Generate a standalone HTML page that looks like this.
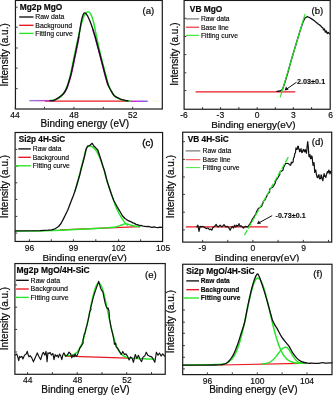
<!DOCTYPE html>
<html><head><meta charset="utf-8"><title>XPS spectra</title>
<style>
html,body{margin:0;padding:0;background:#fff;}
body{width:333px;height:395px;overflow:hidden;}
svg{display:block;}
text{font-family:"Liberation Sans", sans-serif;}
</style></head>
<body>
<svg width="333" height="395" viewBox="0 0 333 395">
<rect width="333" height="395" fill="#fff"/>
<defs><linearGradient id="gl" x1="0" x2="1"><stop offset="0" stop-color="#8f86cf"/><stop offset="0.55" stop-color="#b848d0"/><stop offset="1" stop-color="#c82ac8"/></linearGradient><linearGradient id="gr" x1="0" x2="1"><stop offset="0" stop-color="#d0249a"/><stop offset="0.35" stop-color="#cc22d0"/><stop offset="0.75" stop-color="#9a40e0"/><stop offset="1" stop-color="#7a60d8"/></linearGradient></defs>
<line x1="45.00" y1="101.20" x2="127.00" y2="101.20" stroke="#ea1820" stroke-width="1.25" />
<rect x="29.3" y="99.95" width="26.7" height="1.4" fill="url(#gl)"/>
<rect x="125" y="100.55" width="22.7" height="1.4" fill="url(#gr)"/>
<rect x="152.7" y="100.6" width="7" height="1" fill="#eef5c8"/>
<path d="M50.00 100.70 C50.83 100.57 53.53 100.32 55.00 99.90 C56.47 99.48 57.57 99.05 58.80 98.20 C60.03 97.35 61.23 96.25 62.40 94.80 C63.57 93.35 64.62 92.13 65.80 89.50 C66.98 86.87 68.22 83.92 69.50 79.00 C70.78 74.08 72.17 66.33 73.50 60.00 C74.83 53.67 76.20 47.00 77.50 41.00 C78.80 35.00 80.13 28.33 81.30 24.00 C82.47 19.67 83.40 17.03 84.50 15.00 C85.60 12.97 86.82 11.88 87.90 11.80 C88.98 11.72 89.98 12.47 91.00 14.50 C92.02 16.53 93.07 20.25 94.00 24.00 C94.93 27.75 95.50 31.83 96.60 37.00 C97.70 42.17 99.12 48.83 100.60 55.00 C102.08 61.17 104.17 68.95 105.50 74.00 C106.83 79.05 107.58 82.40 108.60 85.30 C109.62 88.20 110.53 89.55 111.60 91.40 C112.67 93.25 113.52 95.07 115.00 96.40 C116.48 97.73 118.67 98.68 120.50 99.40 C122.33 100.12 124.42 100.45 126.00 100.70 C127.58 100.95 129.33 100.87 130.00 100.90" fill="none" stroke="#27e627" stroke-width="1.5" stroke-linejoin="round" stroke-linecap="round" />
<path d="M63.75 94.00 C64.32 93.07 66.18 90.57 67.15 88.40 C68.12 86.23 68.82 83.40 69.55 81.00 C70.28 78.60 70.62 78.00 71.55 74.00 C72.48 70.00 73.87 63.17 75.15 57.00 C76.43 50.83 78.57 40.33 79.25 37.00" fill="none" stroke="#cc22cc" stroke-width="1.1" stroke-linejoin="round" stroke-linecap="round" />
<path d="M92.55 29.50 C92.93 30.75 93.67 32.75 94.85 37.00 C96.03 41.25 98.03 48.83 99.65 55.00 C101.27 61.17 103.20 68.98 104.55 74.00 C105.90 79.02 107.22 83.25 107.75 85.10" fill="none" stroke="#cc22cc" stroke-width="1.1" stroke-linejoin="round" stroke-linecap="round" />
<path d="M50.00 100.60 C50.63 100.55 52.43 100.75 53.80 100.30 C55.17 99.85 56.63 98.95 58.20 97.90 C59.77 96.85 61.80 95.58 63.20 94.00 C64.60 92.42 65.63 90.57 66.60 88.40 C67.57 86.23 68.27 83.40 69.00 81.00 C69.73 78.60 70.07 78.00 71.00 74.00 C71.93 70.00 73.32 63.17 74.60 57.00 C75.88 50.83 77.58 42.92 78.70 37.00 C79.82 31.08 80.55 25.23 81.30 21.50 C82.05 17.77 82.65 16.03 83.20 14.60 C83.75 13.17 84.15 13.08 84.60 12.90 C85.05 12.72 85.40 12.98 85.90 13.50 C86.40 14.02 86.92 14.70 87.60 16.00 C88.28 17.30 89.10 19.05 90.00 21.30 C90.90 23.55 92.12 26.88 93.00 29.50 C93.88 32.12 94.12 32.75 95.30 37.00 C96.48 41.25 98.48 48.83 100.10 55.00 C101.72 61.17 103.65 68.98 105.00 74.00 C106.35 79.02 107.20 82.32 108.20 85.10 C109.20 87.88 109.98 88.93 111.00 90.70 C112.02 92.47 112.82 94.35 114.30 95.70 C115.78 97.05 118.13 98.03 119.90 98.80 C121.67 99.57 123.55 99.97 124.90 100.30 C126.25 100.63 127.48 100.72 128.00 100.80" fill="none" stroke="#111" stroke-width="1.35" stroke-linejoin="round" stroke-linecap="round" />
<rect x="15.45" y="0.45" width="146.85" height="108.55" fill="none" stroke="#1a1a1a" stroke-width="1.2"/>
<line x1="15.20" y1="109.00" x2="15.20" y2="106.80" stroke="#3a3a3a" stroke-width="1.0" />
<line x1="44.50" y1="109.00" x2="44.50" y2="106.80" stroke="#3a3a3a" stroke-width="1.0" />
<line x1="73.90" y1="109.00" x2="73.90" y2="106.80" stroke="#3a3a3a" stroke-width="1.0" />
<line x1="103.30" y1="109.00" x2="103.30" y2="106.80" stroke="#3a3a3a" stroke-width="1.0" />
<line x1="132.70" y1="109.00" x2="132.70" y2="106.80" stroke="#3a3a3a" stroke-width="1.0" />
<line x1="15.45" y1="7.20" x2="17.65" y2="7.20" stroke="#3a3a3a" stroke-width="1.0" />
<line x1="15.45" y1="27.20" x2="17.65" y2="27.20" stroke="#3a3a3a" stroke-width="1.0" />
<line x1="15.45" y1="48.00" x2="17.65" y2="48.00" stroke="#3a3a3a" stroke-width="1.0" />
<line x1="15.45" y1="68.10" x2="17.65" y2="68.10" stroke="#3a3a3a" stroke-width="1.0" />
<line x1="15.45" y1="88.70" x2="17.65" y2="88.70" stroke="#3a3a3a" stroke-width="1.0" />
<text x="19.70" y="10.20" font-size="8.35" font-weight="bold" text-anchor="start" fill="#0a0a0a" stroke="#0a0a0a" stroke-width="0.2">Mg2p MgO</text>
<line x1="19.20" y1="17.00" x2="33.50" y2="17.00" stroke="#111" stroke-width="1.35" />
<text x="35.30" y="19.30" font-size="6.9" font-weight="normal" text-anchor="start" fill="#0a0a0a" stroke="#0a0a0a" stroke-width="0.15">Raw data</text>
<line x1="19.20" y1="25.30" x2="33.50" y2="25.30" stroke="#ea1820" stroke-width="1.35" />
<text x="35.30" y="27.60" font-size="6.9" font-weight="normal" text-anchor="start" fill="#0a0a0a" stroke="#0a0a0a" stroke-width="0.15">Background</text>
<line x1="19.20" y1="33.40" x2="33.50" y2="33.40" stroke="#27e627" stroke-width="1.35" />
<text x="35.30" y="35.70" font-size="6.9" font-weight="normal" text-anchor="start" fill="#0a0a0a" stroke="#0a0a0a" stroke-width="0.15">Fitting curve</text>
<text x="142.50" y="13.70" font-size="9.6" font-weight="normal" text-anchor="start" fill="#0a0a0a" stroke="#0a0a0a" stroke-width="0.22">(a)</text>
<text x="15.10" y="118.20" font-size="8.5" font-weight="normal" text-anchor="middle" fill="#0a0a0a" stroke="#0a0a0a" stroke-width="0.15">44</text>
<text x="73.90" y="118.20" font-size="8.5" font-weight="normal" text-anchor="middle" fill="#0a0a0a" stroke="#0a0a0a" stroke-width="0.15">48</text>
<text x="132.70" y="118.20" font-size="8.5" font-weight="normal" text-anchor="middle" fill="#0a0a0a" stroke="#0a0a0a" stroke-width="0.15">52</text>
<text x="84.80" y="127.30" font-size="10.0" font-weight="normal" text-anchor="middle" fill="#0a0a0a" stroke="#0a0a0a" stroke-width="0.22">Binding energy (eV)</text>
<text x="0" y="0" font-size="10.0" text-anchor="middle" fill="#0a0a0a" stroke="#0a0a0a" stroke-width="0.22" transform="translate(8.00,54.90) rotate(-90)">Intensity (a.u.)</text>
<line x1="195.60" y1="91.90" x2="295.30" y2="91.90" stroke="#ea1820" stroke-width="1.25" />
<path d="M277.00 91.40 L280.00 91.00 L282.50 89.50 L285.00 82.00 L288.00 72.00 L291.00 61.00 L294.00 51.00 L297.00 41.00 L300.00 31.00 L303.00 22.00 L305.00 18.00 L307.10 16.70 L309.50 17.50 L312.70 19.60 L315.50 21.80 L318.20 24.00 L320.50 25.60 L321.70 27.20 L322.70 27.60 L323.50 29.80 L324.40 29.00 L325.40 32.20 L326.30 31.00 L327.30 33.60 L328.30 32.50 L329.50 33.80" fill="none" stroke="#111" stroke-width="1.3" stroke-linejoin="round" stroke-linecap="round" />
<line x1="280.20" y1="97.30" x2="305.10" y2="13.90" stroke="#27e627" stroke-width="1.15" />
<line x1="296.60" y1="82.20" x2="287.00" y2="88.80" stroke="#111" stroke-width="1.0" />
<polygon points="284.6,90.4 286.0,86.6 288.6,89.8" fill="#111"/>
<text x="297.00" y="84.40" font-size="7.25" font-weight="bold" text-anchor="start" fill="#0a0a0a" stroke="#0a0a0a" stroke-width="0.1">2.03±0.1</text>
<rect x="184.10" y="0.45" width="146.10" height="108.80" fill="none" stroke="#1a1a1a" stroke-width="1.2"/>
<line x1="202.60" y1="109.25" x2="202.60" y2="107.05" stroke="#3a3a3a" stroke-width="1.0" />
<line x1="220.60" y1="109.25" x2="220.60" y2="107.05" stroke="#3a3a3a" stroke-width="1.0" />
<line x1="238.90" y1="109.25" x2="238.90" y2="107.05" stroke="#3a3a3a" stroke-width="1.0" />
<line x1="257.20" y1="109.25" x2="257.20" y2="107.05" stroke="#3a3a3a" stroke-width="1.0" />
<line x1="275.30" y1="109.25" x2="275.30" y2="107.05" stroke="#3a3a3a" stroke-width="1.0" />
<line x1="293.30" y1="109.25" x2="293.30" y2="107.05" stroke="#3a3a3a" stroke-width="1.0" />
<line x1="311.60" y1="109.25" x2="311.60" y2="107.05" stroke="#3a3a3a" stroke-width="1.0" />
<line x1="184.10" y1="18.30" x2="186.30" y2="18.30" stroke="#3a3a3a" stroke-width="1.0" />
<line x1="184.10" y1="36.50" x2="186.30" y2="36.50" stroke="#3a3a3a" stroke-width="1.0" />
<line x1="184.10" y1="54.60" x2="186.30" y2="54.60" stroke="#3a3a3a" stroke-width="1.0" />
<line x1="184.10" y1="72.80" x2="186.30" y2="72.80" stroke="#3a3a3a" stroke-width="1.0" />
<line x1="184.10" y1="90.60" x2="186.30" y2="90.60" stroke="#3a3a3a" stroke-width="1.0" />
<text x="189.80" y="11.80" font-size="8.4" font-weight="bold" text-anchor="start" fill="#0a0a0a" stroke="#0a0a0a" stroke-width="0.2">VB MgO</text>
<line x1="185.90" y1="18.90" x2="199.20" y2="18.90" stroke="#606060" stroke-width="1.05" />
<text x="200.90" y="21.20" font-size="6.8" font-weight="normal" text-anchor="start" fill="#0a0a0a" stroke="#0a0a0a" stroke-width="0.15">Raw data</text>
<line x1="185.90" y1="27.20" x2="199.20" y2="27.20" stroke="#ea1820" stroke-width="1.05" />
<text x="200.90" y="29.50" font-size="6.8" font-weight="normal" text-anchor="start" fill="#0a0a0a" stroke="#0a0a0a" stroke-width="0.15">Base line</text>
<line x1="185.90" y1="35.30" x2="199.20" y2="35.30" stroke="#27e627" stroke-width="1.05" />
<text x="200.90" y="37.60" font-size="6.8" font-weight="normal" text-anchor="start" fill="#0a0a0a" stroke="#0a0a0a" stroke-width="0.15">Fitting curve</text>
<text x="311.50" y="13.90" font-size="9.6" font-weight="normal" text-anchor="start" fill="#0a0a0a" stroke="#0a0a0a" stroke-width="0.22">(b)</text>
<text x="184.00" y="118.10" font-size="8.5" font-weight="normal" text-anchor="middle" fill="#0a0a0a" stroke="#0a0a0a" stroke-width="0.15">-6</text>
<text x="220.40" y="118.10" font-size="8.5" font-weight="normal" text-anchor="middle" fill="#0a0a0a" stroke="#0a0a0a" stroke-width="0.15">-3</text>
<text x="257.20" y="118.10" font-size="8.5" font-weight="normal" text-anchor="middle" fill="#0a0a0a" stroke="#0a0a0a" stroke-width="0.15">0</text>
<text x="293.30" y="118.10" font-size="8.5" font-weight="normal" text-anchor="middle" fill="#0a0a0a" stroke="#0a0a0a" stroke-width="0.15">3</text>
<text x="330.50" y="118.10" font-size="8.5" font-weight="normal" text-anchor="middle" fill="#0a0a0a" stroke="#0a0a0a" stroke-width="0.15">6</text>
<text x="253.40" y="127.80" font-size="9.85" font-weight="normal" text-anchor="middle" fill="#0a0a0a" stroke="#0a0a0a" stroke-width="0.22">Binding energy(eV)</text>
<text x="0" y="0" font-size="10.0" text-anchor="middle" fill="#0a0a0a" stroke="#0a0a0a" stroke-width="0.22" transform="translate(177.70,54.20) rotate(-90)">Intensity (a.u.)</text>
<line x1="60.00" y1="229.80" x2="140.00" y2="226.60" stroke="#ea1820" stroke-width="1.2" />
<path d="M15.50 231.10 C19.58 231.08 30.92 231.22 40.00 231.00 C49.08 230.78 60.00 230.27 70.00 229.80 C80.00 229.33 92.67 228.62 100.00 228.20 C107.33 227.78 110.67 227.73 114.00 227.30 C117.33 226.87 118.02 226.22 120.00 225.60 C121.98 224.98 124.23 223.73 125.90 223.60 C127.57 223.47 128.65 224.40 130.00 224.80 C131.35 225.20 132.37 225.68 134.00 226.00 C135.63 226.32 138.83 226.58 139.80 226.70" fill="none" stroke="#27e627" stroke-width="1.4" stroke-linejoin="round" stroke-linecap="round" />
<path d="M74.90 191.20 C75.17 190.33 75.90 188.12 76.50 186.00 C77.10 183.88 77.75 181.42 78.50 178.50 C79.25 175.58 80.15 171.83 81.00 168.50 C81.85 165.17 82.85 161.42 83.60 158.50 C84.35 155.58 84.83 152.92 85.50 151.00 C86.17 149.08 86.85 147.83 87.60 147.00 C88.35 146.17 89.10 145.93 90.00 146.00 C90.90 146.07 92.00 146.65 93.00 147.40 C94.00 148.15 95.00 149.07 96.00 150.50 C97.00 151.93 97.83 153.33 99.00 156.00 C100.17 158.67 101.72 162.50 103.00 166.50 C104.28 170.50 105.45 175.92 106.70 180.00 C107.95 184.08 109.03 186.65 110.50 191.00 C111.97 195.35 113.95 202.13 115.50 206.10 C117.05 210.07 118.35 212.18 119.80 214.80 C121.25 217.42 122.90 220.05 124.20 221.80 C125.50 223.55 127.03 224.72 127.60 225.30" fill="none" stroke="#27e627" stroke-width="1.4" stroke-linejoin="round" stroke-linecap="round" />
<path d="M15.50 230.90 L40.00 230.60 L48.00 230.20 L51.60 229.80 L55.00 228.80 L58.60 226.50 L61.00 223.50 L63.30 219.10 L65.60 214.50 L67.90 209.80 L69.70 205.00 L71.40 200.50 L73.20 196.00 L74.90 191.20 L76.50 186.00 L78.30 180.00 L80.00 174.00 L81.30 168.50 L84.30 157.50 L86.30 148.50 L87.50 146.20 L88.50 145.80 L89.50 145.70 L90.80 144.50 L92.20 143.30 L93.20 145.00 L94.00 146.30 L95.50 147.60 L97.80 150.00 L100.00 156.80 L103.00 166.50 L104.40 170.50 L106.70 179.50 L107.80 183.30 L111.10 193.50 L114.00 201.00 L117.20 206.80 L120.00 211.50 L122.40 215.70 L125.00 218.50 L127.60 220.30 L130.00 221.30 L132.90 222.90 L134.50 223.40 L136.00 224.40 L138.00 224.90 L139.80 225.60 L141.50 225.50 L143.00 226.10 L145.00 226.30 L146.80 226.70 L148.50 226.40 L150.00 226.80 L152.00 227.30 L154.00 226.90 L156.00 227.30 L158.00 227.60 L160.00 227.20 L162.00 227.40" fill="none" stroke="#111" stroke-width="1.3" stroke-linejoin="round" stroke-linecap="round" />
<rect x="15.10" y="132.50" width="147.50" height="108.95" fill="none" stroke="#1a1a1a" stroke-width="1.2"/>
<line x1="29.40" y1="241.45" x2="29.40" y2="239.25" stroke="#3a3a3a" stroke-width="1.0" />
<line x1="51.30" y1="241.45" x2="51.30" y2="239.25" stroke="#3a3a3a" stroke-width="1.0" />
<line x1="73.40" y1="241.45" x2="73.40" y2="239.25" stroke="#3a3a3a" stroke-width="1.0" />
<line x1="95.80" y1="241.45" x2="95.80" y2="239.25" stroke="#3a3a3a" stroke-width="1.0" />
<line x1="118.60" y1="241.45" x2="118.60" y2="239.25" stroke="#3a3a3a" stroke-width="1.0" />
<line x1="140.60" y1="241.45" x2="140.60" y2="239.25" stroke="#3a3a3a" stroke-width="1.0" />
<line x1="15.10" y1="149.40" x2="17.30" y2="149.40" stroke="#3a3a3a" stroke-width="1.0" />
<line x1="15.10" y1="166.30" x2="17.30" y2="166.30" stroke="#3a3a3a" stroke-width="1.0" />
<line x1="15.10" y1="182.80" x2="17.30" y2="182.80" stroke="#3a3a3a" stroke-width="1.0" />
<line x1="15.10" y1="199.40" x2="17.30" y2="199.40" stroke="#3a3a3a" stroke-width="1.0" />
<line x1="15.10" y1="216.40" x2="17.30" y2="216.40" stroke="#3a3a3a" stroke-width="1.0" />
<line x1="15.10" y1="233.10" x2="17.30" y2="233.10" stroke="#3a3a3a" stroke-width="1.0" />
<text x="18.80" y="142.30" font-size="8.2" font-weight="bold" text-anchor="start" fill="#0a0a0a" stroke="#0a0a0a" stroke-width="0.2">Si2p 4H-SiC</text>
<line x1="18.30" y1="148.90" x2="30.80" y2="148.90" stroke="#111" stroke-width="1.35" />
<text x="32.80" y="151.20" font-size="6.8" font-weight="normal" text-anchor="start" fill="#0a0a0a" stroke="#0a0a0a" stroke-width="0.15">Raw data</text>
<line x1="18.30" y1="157.30" x2="30.80" y2="157.30" stroke="#ea1820" stroke-width="1.35" />
<text x="32.80" y="159.60" font-size="6.8" font-weight="normal" text-anchor="start" fill="#0a0a0a" stroke="#0a0a0a" stroke-width="0.15">Background</text>
<line x1="18.30" y1="165.80" x2="30.80" y2="165.80" stroke="#27e627" stroke-width="1.35" />
<text x="32.80" y="168.10" font-size="6.8" font-weight="normal" text-anchor="start" fill="#0a0a0a" stroke="#0a0a0a" stroke-width="0.15">Fitting curve</text>
<text x="142.30" y="146.30" font-size="9.6" font-weight="normal" text-anchor="start" fill="#0a0a0a" stroke="#0a0a0a" stroke-width="0.4">(c)</text>
<line x1="15.20" y1="165.80" x2="19.00" y2="165.80" stroke="#27e627" stroke-width="1.35" />
<text x="29.40" y="250.60" font-size="8.5" font-weight="normal" text-anchor="middle" fill="#0a0a0a" stroke="#0a0a0a" stroke-width="0.15">96</text>
<text x="73.60" y="250.60" font-size="8.5" font-weight="normal" text-anchor="middle" fill="#0a0a0a" stroke="#0a0a0a" stroke-width="0.15">99</text>
<text x="118.50" y="250.60" font-size="8.5" font-weight="normal" text-anchor="middle" fill="#0a0a0a" stroke="#0a0a0a" stroke-width="0.15">102</text>
<text x="163.20" y="250.60" font-size="8.5" font-weight="normal" text-anchor="middle" fill="#0a0a0a" stroke="#0a0a0a" stroke-width="0.15">105</text>
<text x="84.70" y="260.50" font-size="9.85" font-weight="normal" text-anchor="middle" fill="#0a0a0a" stroke="#0a0a0a" stroke-width="0.22">Binding energy(eV)</text>
<text x="0" y="0" font-size="10.0" text-anchor="middle" fill="#0a0a0a" stroke="#0a0a0a" stroke-width="0.22" transform="translate(8.00,186.60) rotate(-90)">Intensity (a.u.)</text>
<line x1="185.90" y1="226.90" x2="267.80" y2="226.90" stroke="#ea1820" stroke-width="1.3" />
<path d="M196.80 226.90 L197.90 225.20 L199.00 231.40 L200.10 226.40 L201.20 226.90 L202.90 226.40 L204.60 227.50 L206.20 228.60 L207.90 228.00 L209.60 229.70 L210.70 229.10 L211.80 230.20 L212.90 227.50 L214.60 226.40 L216.20 224.50 L217.30 226.40 L218.40 226.90 L220.10 225.20 L221.80 226.90 L222.90 225.80 L224.00 224.70 L225.70 226.90 L227.30 226.40 L229.00 228.00 L230.10 230.20 L231.20 228.00 L232.30 226.40 L233.40 228.00 L234.60 225.20 L235.70 226.90 L236.80 225.20 L237.90 226.40 L239.00 223.60 L240.10 226.40 L241.20 225.80 L242.30 226.90 L243.40 228.00 L244.60 226.90 L245.70 226.40 L246.80 226.90 L247.90 226.90 L249.00 225.20 L250.10 223.60 L251.20 221.90 L252.53 218.77 L254.28 216.47 L256.33 212.98 L256.29 212.11 L258.31 208.49 L261.51 206.54 L262.56 204.14 L263.52 201.07 L264.95 200.09 L266.11 197.42 L267.90 193.64 L269.54 192.28 L269.88 188.75 L272.67 187.21 L273.75 185.61 L275.17 183.28 L275.84 180.62 L277.39 178.47 L279.86 174.38 L279.51 172.20 L282.94 170.22 L283.56 167.54 L284.70 165.29 L285.76 163.27 L288.50 163.50 L289.30 164.62 L290.10 165.00 L290.70 165.28 L291.30 162.00 L291.90 163.10 L292.50 162.60 L293.00 162.19 L293.50 158.00 L294.15 157.42 L294.80 153.70 L295.40 152.96 L296.00 147.90 L296.60 149.45 L297.20 149.50 L297.75 146.37 L298.30 146.20 L298.75 149.19 L299.20 149.00 L299.60 151.64 L300.00 150.20 L300.50 151.13 L301.00 148.50 L301.40 150.85 L301.80 152.60 L302.40 152.24 L303.00 150.00 L303.60 149.43 L304.20 151.40 L304.75 151.91 L305.30 149.50 L305.90 151.72 L306.50 153.30 L307.10 146.50 L307.70 141.60 L308.30 146.93 L308.90 156.10 L309.45 156.86 L310.00 154.50 L310.60 158.61 L311.20 158.40 L311.70 155.89 L312.20 157.00 L312.65 162.52 L313.10 165.40 L313.55 163.56 L314.00 162.50 L314.35 165.96 L314.70 172.50 L315.25 170.34 L315.80 170.00 L316.45 174.78 L317.10 177.20 L317.80 177.74 L318.50 175.00 L319.00 174.74 L319.50 178.50 L320.05 178.90 L320.60 178.30 L321.05 174.90 L321.50 175.50 L322.20 179.06 L322.90 180.70 L323.50 176.41 L324.10 173.60 L324.65 176.48 L325.20 176.00 L325.80 177.51 L326.40 174.80 L326.95 173.17 L327.50 171.50 L328.15 172.99 L328.80 170.10 L329.40 171.21 L330.00 174.00 L330.55 171.39 L331.10 172.50" fill="none" stroke="#111" stroke-width="1.2" stroke-linejoin="round" stroke-linecap="round" />
<line x1="244.40" y1="235.20" x2="288.50" y2="156.80" stroke="#27e627" stroke-width="1.25" stroke-dasharray="6 1.6"/>
<line x1="272.20" y1="215.60" x2="259.50" y2="222.50" stroke="#111" stroke-width="1.0" />
<polygon points="257.0,223.9 258.6,220.4 261.0,223.8" fill="#111"/>
<text x="275.50" y="218.00" font-size="7.15" font-weight="bold" text-anchor="start" fill="#0a0a0a" stroke="#0a0a0a" stroke-width="0.1">-0.73±0.1</text>
<rect x="182.70" y="132.20" width="149.00" height="109.90" fill="none" stroke="#1a1a1a" stroke-width="1.2"/>
<line x1="202.60" y1="242.10" x2="202.60" y2="239.90" stroke="#3a3a3a" stroke-width="1.0" />
<line x1="227.80" y1="242.10" x2="227.80" y2="239.90" stroke="#3a3a3a" stroke-width="1.0" />
<line x1="252.90" y1="242.10" x2="252.90" y2="239.90" stroke="#3a3a3a" stroke-width="1.0" />
<line x1="278.10" y1="242.10" x2="278.10" y2="239.90" stroke="#3a3a3a" stroke-width="1.0" />
<line x1="303.30" y1="242.10" x2="303.30" y2="239.90" stroke="#3a3a3a" stroke-width="1.0" />
<line x1="328.50" y1="242.10" x2="328.50" y2="239.90" stroke="#3a3a3a" stroke-width="1.0" />
<line x1="182.70" y1="141.70" x2="184.90" y2="141.70" stroke="#3a3a3a" stroke-width="1.0" />
<line x1="182.70" y1="159.40" x2="184.90" y2="159.40" stroke="#3a3a3a" stroke-width="1.0" />
<line x1="182.70" y1="177.00" x2="184.90" y2="177.00" stroke="#3a3a3a" stroke-width="1.0" />
<line x1="182.70" y1="194.40" x2="184.90" y2="194.40" stroke="#3a3a3a" stroke-width="1.0" />
<line x1="182.70" y1="212.20" x2="184.90" y2="212.20" stroke="#3a3a3a" stroke-width="1.0" />
<line x1="182.70" y1="229.90" x2="184.90" y2="229.90" stroke="#3a3a3a" stroke-width="1.0" />
<text x="187.70" y="142.30" font-size="8.3" font-weight="bold" text-anchor="start" fill="#0a0a0a" stroke="#0a0a0a" stroke-width="0.2">VB 4H-SiC</text>
<line x1="185.70" y1="150.90" x2="200.30" y2="150.90" stroke="#606060" stroke-width="1.05" />
<text x="202.60" y="153.20" font-size="6.8" font-weight="normal" text-anchor="start" fill="#0a0a0a" stroke="#0a0a0a" stroke-width="0.15">Raw data</text>
<line x1="185.70" y1="159.70" x2="200.30" y2="159.70" stroke="#f54848" stroke-width="1.05" />
<text x="202.60" y="162.00" font-size="6.8" font-weight="normal" text-anchor="start" fill="#0a0a0a" stroke="#0a0a0a" stroke-width="0.15">Base line</text>
<line x1="185.70" y1="167.60" x2="200.30" y2="167.60" stroke="#4ae84a" stroke-width="1.05" />
<text x="202.60" y="169.90" font-size="6.8" font-weight="normal" text-anchor="start" fill="#0a0a0a" stroke="#0a0a0a" stroke-width="0.15">Fitting curve</text>
<text x="311.70" y="144.70" font-size="9.6" font-weight="normal" text-anchor="start" fill="#0a0a0a" stroke="#0a0a0a" stroke-width="0.22">(d)</text>
<text x="202.40" y="251.30" font-size="8.5" font-weight="normal" text-anchor="middle" fill="#0a0a0a" stroke="#0a0a0a" stroke-width="0.15">-9</text>
<text x="252.90" y="251.30" font-size="8.5" font-weight="normal" text-anchor="middle" fill="#0a0a0a" stroke="#0a0a0a" stroke-width="0.15">0</text>
<text x="303.60" y="251.30" font-size="8.5" font-weight="normal" text-anchor="middle" fill="#0a0a0a" stroke="#0a0a0a" stroke-width="0.15">9</text>
<text x="257.00" y="260.50" font-size="9.9" font-weight="normal" text-anchor="middle" fill="#0a0a0a" stroke="#0a0a0a" stroke-width="0.22">Binding energy(eV)</text>
<text x="0" y="0" font-size="10.0" text-anchor="middle" fill="#0a0a0a" stroke="#0a0a0a" stroke-width="0.22" transform="translate(174.00,186.70) rotate(-90)">Intensity (a.u.)</text>
<rect x="0" y="261.7" width="333" height="1.5" fill="#fff"/>
<line x1="65.70" y1="356.10" x2="128.00" y2="358.20" stroke="#ea1820" stroke-width="1.25" />
<path d="M64.60 355.54 L65.24 355.55 L65.88 355.56 L66.52 355.55 L67.15 355.54 L67.79 355.53 L68.43 355.50 L69.07 355.45 L69.71 355.39 L70.35 355.32 L70.99 355.21 L71.62 355.08 L72.26 354.92 L72.90 354.72 L73.54 354.48 L74.18 354.18 L74.82 353.83 L75.46 353.41 L76.09 352.91 L76.73 352.34 L77.37 351.66 L78.01 350.89 L78.65 350.00 L79.29 348.98 L79.93 347.84 L80.56 346.55 L81.20 345.12 L81.84 343.53 L82.48 341.77 L83.12 339.86 L83.76 337.77 L84.40 335.53 L85.03 333.12 L85.67 330.56 L86.31 327.86 L86.95 325.03 L87.59 322.09 L88.23 319.05 L88.87 315.95 L89.50 312.81 L90.14 309.67 L90.78 306.54 L91.42 303.47 L92.06 300.50 L92.70 297.65 L93.34 294.97 L93.97 292.49 L94.61 290.24 L95.25 288.26 L95.89 286.57 L96.53 285.20 L97.17 284.17 L97.81 283.50 L98.44 283.19 L99.08 283.25 L99.72 283.66 L100.36 284.41 L101.00 285.49 L101.64 286.88 L102.28 288.58 L102.91 290.54 L103.55 292.76 L104.19 295.20 L104.83 297.83 L105.47 300.62 L106.11 303.53 L106.75 306.54 L107.38 309.60 L108.02 312.70 L108.66 315.79 L109.30 318.86 L109.94 321.87 L110.58 324.80 L111.22 327.64 L111.85 330.36 L112.49 332.96 L113.13 335.41 L113.77 337.72 L114.41 339.88 L115.05 341.89 L115.69 343.74 L116.32 345.43 L116.96 346.98 L117.60 348.38 L118.24 349.64 L118.88 350.77 L119.52 351.79 L120.16 352.68 L120.79 353.47 L121.43 354.17 L122.07 354.78 L122.71 355.31 L123.35 355.76 L123.99 356.16 L124.63 356.50 L125.26 356.79 L125.90 357.04 L126.54 357.26 L127.18 357.44 L127.82 357.60 L128.46 357.73 L129.10 357.84 L129.73 357.94 L130.37 358.02 L131.01 358.10 L131.65 358.16 L132.29 358.22 L132.93 358.27 L133.57 358.31 L134.20 358.35 L134.84 358.39 L135.48 358.42 L136.12 358.46 L136.76 358.49 L137.40 358.52 L138.04 358.55 L138.67 358.58 L139.31 358.60 L139.95 358.63 L140.59 358.66 L141.23 358.68 L141.87 358.71 L142.51 358.74 L143.14 358.76 L143.78 358.79 L144.42 358.81 L145.06 358.84 L145.70 358.87 L146.34 358.89 L146.98 358.92 L147.61 358.94 L148.25 358.97 L148.89 358.99 L149.53 359.02 L150.17 359.05 L150.81 359.07 L151.45 359.10 L152.08 359.12 L152.72 359.15 L153.36 359.17 L154.00 359.20" fill="none" stroke="#27e627" stroke-width="1.5" stroke-linejoin="round" stroke-linecap="round" />
<path d="M15.20 355.10 L16.80 354.00 L17.90 357.40 L18.70 360.70 L19.60 356.30 L20.70 357.40 L21.80 356.30 L22.90 359.00 L24.60 355.10 L26.20 354.00 L27.30 351.30 L28.20 355.10 L29.00 356.80 L30.10 355.70 L31.80 357.90 L33.40 361.80 L35.10 357.90 L37.30 352.90 L39.00 356.80 L40.70 359.60 L42.30 354.00 L43.40 352.40 L44.90 355.10 L46.00 351.30 L47.10 361.80 L47.90 352.90 L49.00 353.50 L50.10 352.40 L51.40 355.10 L52.90 353.50 L54.00 359.60 L55.10 354.60 L56.20 356.30 L57.30 355.10 L58.40 357.40 L59.60 354.00 L60.70 355.70 L61.80 359.60 L62.90 354.60 L64.00 352.90 L65.70 356.30 L67.30 355.10 L69.00 352.10 L70.70 354.00 L71.80 357.90 L72.90 355.10 L74.00 356.80 L75.10 354.00 L76.20 356.30 L77.30 355.10 L79.00 350.60 L80.10 347.20 L80.60 347.10 L81.70 345.40 L83.30 342.70 L82.90 341.50 L83.30 338.80 L84.40 333.50 L85.00 333.20 L85.60 329.90 L86.10 328.20 L87.20 324.30 L88.90 316.60 L89.80 311.60 L91.10 309.30 L90.60 308.20 L91.70 303.80 L93.10 298.20 L94.40 293.80 L95.60 290.40 L96.70 287.10 L98.70 281.30 L100.60 288.20 L101.70 290.40 L102.80 291.60 L103.90 297.10 L105.00 302.70 L106.40 307.10 L107.80 308.80 L108.30 308.20 L109.10 311.60 L109.40 318.00 L111.10 327.70 L112.80 334.30 L113.90 339.90 L114.40 344.30 L115.60 343.20 L116.10 346.60 L118.10 349.10 L121.30 354.50 L122.80 351.40 L124.40 354.50 L125.90 353.80 L127.50 356.10 L129.10 360.00 L130.60 356.90 L132.20 358.40 L133.40 362.30 L135.30 354.50 L136.90 358.40 L138.40 355.30 L140.00 359.20 L141.60 361.60 L143.10 356.90 L144.70 356.10 L146.30 352.20 L147.80 355.30 L149.40 356.10 L151.70 356.90 L153.30 359.20 L154.80 362.30 L156.40 352.20 L158.00 355.30 L159.50 353.00 L161.10 356.10 L162.70 353.80 L164.60 356.10" fill="none" stroke="#111" stroke-width="1.15" stroke-linejoin="round" stroke-linecap="round" />
<rect x="14.90" y="263.55" width="150.35" height="110.75" fill="none" stroke="#1a1a1a" stroke-width="1.2"/>
<line x1="27.60" y1="374.30" x2="27.60" y2="372.10" stroke="#3a3a3a" stroke-width="1.0" />
<line x1="52.40" y1="374.30" x2="52.40" y2="372.10" stroke="#3a3a3a" stroke-width="1.0" />
<line x1="77.20" y1="374.30" x2="77.20" y2="372.10" stroke="#3a3a3a" stroke-width="1.0" />
<line x1="102.00" y1="374.30" x2="102.00" y2="372.10" stroke="#3a3a3a" stroke-width="1.0" />
<line x1="126.70" y1="374.30" x2="126.70" y2="372.10" stroke="#3a3a3a" stroke-width="1.0" />
<line x1="151.50" y1="374.30" x2="151.50" y2="372.10" stroke="#3a3a3a" stroke-width="1.0" />
<line x1="14.90" y1="285.00" x2="17.10" y2="285.00" stroke="#3a3a3a" stroke-width="1.0" />
<line x1="14.90" y1="307.20" x2="17.10" y2="307.20" stroke="#3a3a3a" stroke-width="1.0" />
<line x1="14.90" y1="329.40" x2="17.10" y2="329.40" stroke="#3a3a3a" stroke-width="1.0" />
<line x1="14.90" y1="352.00" x2="17.10" y2="352.00" stroke="#3a3a3a" stroke-width="1.0" />
<text x="16.60" y="272.60" font-size="8.45" font-weight="bold" text-anchor="start" fill="#0a0a0a" stroke="#0a0a0a" stroke-width="0.2">Mg2p MgO/4H-SiC</text>
<line x1="16.10" y1="280.30" x2="28.80" y2="280.30" stroke="#111" stroke-width="1.35" />
<text x="30.60" y="282.60" font-size="7.0" font-weight="normal" text-anchor="start" fill="#0a0a0a" stroke="#0a0a0a" stroke-width="0.15">Raw data</text>
<line x1="16.10" y1="289.00" x2="28.80" y2="289.00" stroke="#ea1820" stroke-width="1.35" />
<text x="30.60" y="291.30" font-size="7.0" font-weight="normal" text-anchor="start" fill="#0a0a0a" stroke="#0a0a0a" stroke-width="0.15">Background</text>
<line x1="16.10" y1="297.40" x2="28.80" y2="297.40" stroke="#27e627" stroke-width="1.35" />
<text x="30.60" y="299.70" font-size="7.0" font-weight="normal" text-anchor="start" fill="#0a0a0a" stroke="#0a0a0a" stroke-width="0.15">Fitting curve</text>
<text x="145.10" y="278.20" font-size="9.6" font-weight="normal" text-anchor="start" fill="#0a0a0a" stroke="#0a0a0a" stroke-width="0.22">(e)</text>
<line x1="15.00" y1="297.40" x2="17.00" y2="297.40" stroke="#27e627" stroke-width="1.35" />
<text x="27.70" y="383.40" font-size="8.5" font-weight="normal" text-anchor="middle" fill="#0a0a0a" stroke="#0a0a0a" stroke-width="0.15">44</text>
<text x="77.40" y="383.40" font-size="8.5" font-weight="normal" text-anchor="middle" fill="#0a0a0a" stroke="#0a0a0a" stroke-width="0.15">48</text>
<text x="126.90" y="383.40" font-size="8.5" font-weight="normal" text-anchor="middle" fill="#0a0a0a" stroke="#0a0a0a" stroke-width="0.15">52</text>
<text x="85.50" y="393.00" font-size="10.0" font-weight="normal" text-anchor="middle" fill="#0a0a0a" stroke="#0a0a0a" stroke-width="0.22">Binding energy (eV)</text>
<text x="0" y="0" font-size="10.0" text-anchor="middle" fill="#0a0a0a" stroke="#0a0a0a" stroke-width="0.22" transform="translate(8.00,318.50) rotate(-90)">Intensity (a.u.)</text>
<line x1="220.00" y1="365.00" x2="301.00" y2="363.40" stroke="#ea1820" stroke-width="1.25" />
<path d="M183.00 365.10 L183.77 365.09 L184.54 365.08 L185.31 365.07 L186.07 365.05 L186.84 365.04 L187.61 365.03 L188.38 365.02 L189.15 365.01 L189.92 365.00 L190.69 364.99 L191.46 364.98 L192.22 364.96 L192.99 364.95 L193.76 364.94 L194.53 364.93 L195.30 364.92 L196.07 364.91 L196.84 364.90 L197.61 364.89 L198.38 364.87 L199.14 364.86 L199.91 364.85 L200.68 364.84 L201.45 364.83 L202.22 364.82 L202.99 364.81 L203.76 364.80 L204.53 364.78 L205.29 364.77 L206.06 364.76 L206.83 364.75 L207.60 364.74 L208.37 364.73 L209.14 364.71 L209.91 364.70 L210.68 364.69 L211.44 364.67 L212.21 364.66 L212.98 364.64 L213.75 364.62 L214.52 364.60 L215.29 364.58 L216.06 364.55 L216.82 364.52 L217.59 364.49 L218.36 364.44 L219.13 364.39 L219.90 364.33 L220.67 364.26 L221.44 364.17 L222.21 364.07 L222.97 363.94 L223.74 363.79 L224.51 363.61 L225.28 363.39 L226.05 363.14 L226.82 362.83 L227.59 362.47 L228.36 362.04 L229.12 361.55 L229.89 360.97 L230.66 360.30 L231.43 359.53 L232.20 358.65 L232.97 357.64 L233.74 356.50 L234.51 355.21 L235.28 353.77 L236.04 352.16 L236.81 350.38 L237.58 348.42 L238.35 346.28 L239.12 343.95 L239.89 341.43 L240.66 338.73 L241.43 335.85 L242.19 332.80 L242.96 329.60 L243.73 326.25 L244.50 322.80 L245.27 319.24 L246.04 315.63 L246.81 311.97 L247.57 308.32 L248.34 304.71 L249.11 301.17 L249.88 297.75 L250.65 294.49 L251.42 291.42 L252.19 288.58 L252.96 286.02 L253.72 283.77 L254.49 281.85 L255.26 280.30 L256.03 279.14 L256.80 278.37 L257.57 278.03 L258.34 278.08 L259.11 278.49 L259.88 279.25 L260.64 280.35 L261.41 281.76 L262.18 283.49 L262.95 285.50 L263.72 287.77 L264.49 290.28 L265.26 292.99 L266.02 295.89 L266.79 298.93 L267.56 302.09 L268.33 305.34 L269.10 308.64 L269.87 311.97 L270.64 315.29 L271.41 318.59 L272.18 321.83 L272.94 325.00 L273.71 328.07 L274.48 331.04 L275.25 333.87 L276.02 336.58 L276.79 339.13 L277.56 341.54 L278.32 343.79 L279.09 345.88 L279.86 347.82 L280.63 349.60 L281.40 351.23 L282.17 352.71 L282.94 354.05 L283.71 355.26 L284.48 356.35 L285.24 357.31 L286.01 358.17 L286.78 358.93 L287.55 359.59 L288.32 360.17 L289.09 360.67 L289.86 361.11 L290.62 361.48 L291.39 361.80 L292.16 362.08 L292.93 362.31 L293.70 362.50 L294.47 362.66 L295.24 362.80 L296.01 362.91 L296.77 362.99 L297.54 363.07 L298.31 363.12 L299.08 363.17 L299.85 363.20 L300.62 363.23 L301.39 363.25 L302.16 363.26 L302.93 363.27 L303.69 363.28 L304.46 363.28 L305.23 363.28 L306.00 363.27" fill="none" stroke="#27e627" stroke-width="1.5" stroke-linejoin="round" stroke-linecap="round" />
<path d="M262.00 363.88 L262.55 363.85 L263.10 363.80 L263.65 363.75 L264.20 363.69 L264.75 363.61 L265.30 363.53 L265.85 363.43 L266.40 363.31 L266.95 363.18 L267.50 363.02 L268.05 362.84 L268.60 362.64 L269.15 362.41 L269.70 362.14 L270.25 361.85 L270.80 361.52 L271.35 361.15 L271.90 360.75 L272.45 360.31 L273.00 359.83 L273.55 359.30 L274.10 358.75 L274.65 358.15 L275.20 357.52 L275.75 356.86 L276.30 356.17 L276.85 355.46 L277.40 354.73 L277.95 354.00 L278.50 353.26 L279.05 352.53 L279.60 351.81 L280.15 351.12 L280.70 350.45 L281.25 349.83 L281.80 349.26 L282.35 348.75 L282.90 348.30 L283.45 347.92 L284.00 347.62 L284.55 347.40 L285.10 347.27 L285.65 347.22 L286.20 347.30 L286.75 347.53 L287.30 347.89 L287.85 348.38 L288.40 348.98 L288.95 349.69 L289.50 350.48 L290.05 351.34 L290.60 352.23 L291.15 353.16 L291.70 354.09 L292.25 355.02 L292.80 355.92 L293.35 356.78 L293.90 357.60 L294.45 358.36 L295.00 359.06 L295.55 359.70 L296.10 360.27 L296.65 360.78 L297.20 361.22 L297.75 361.60 L298.30 361.93 L298.85 362.21 L299.40 362.44 L299.95 362.63 L300.50 362.78 L301.05 362.91 L301.60 363.00 L302.15 363.08 L302.70 363.14 L303.25 363.18 L303.80 363.22 L304.35 363.24 L304.90 363.25 L305.45 363.26 L306.00 363.27" fill="none" stroke="#27e627" stroke-width="1.4" stroke-linejoin="round" stroke-linecap="round" />
<path d="M183.00 365.20 C185.83 365.20 194.67 365.23 200.00 365.20 C205.33 365.17 211.33 365.10 215.00 365.00 C218.67 364.90 220.17 364.85 222.00 364.60 C223.83 364.35 224.83 364.10 226.00 363.50 C227.17 362.90 228.00 362.08 229.00 361.00 C230.00 359.92 231.15 358.28 232.00 357.00 C232.85 355.72 233.13 355.47 234.10 353.30 C235.07 351.13 236.62 347.33 237.80 344.00 C238.98 340.67 240.07 336.88 241.20 333.30 C242.33 329.72 243.67 326.22 244.60 322.50 C245.53 318.78 245.98 315.08 246.80 311.00 C247.62 306.92 248.68 301.75 249.50 298.00 C250.32 294.25 250.82 291.75 251.70 288.50 C252.58 285.25 253.98 280.78 254.80 278.50 C255.62 276.22 256.15 275.55 256.60 274.80 C257.05 274.05 257.20 274.00 257.50 274.00 C257.80 274.00 257.97 274.02 258.40 274.80 C258.83 275.58 259.18 276.15 260.10 278.70 C261.02 281.25 262.63 286.05 263.90 290.10 C265.17 294.15 266.75 299.68 267.70 303.00 C268.65 306.32 268.97 307.72 269.60 310.00 C270.23 312.28 271.00 314.93 271.50 316.70 C272.00 318.47 272.02 319.17 272.60 320.60 C273.18 322.03 274.23 323.97 275.00 325.30 C275.77 326.63 276.07 326.62 277.20 328.60 C278.33 330.58 280.28 334.82 281.80 337.20 C283.32 339.58 285.03 341.30 286.30 342.90 C287.57 344.50 288.38 345.22 289.40 346.80 C290.42 348.38 291.13 350.47 292.40 352.40 C293.67 354.33 295.48 356.87 297.00 358.40 C298.52 359.93 299.73 360.80 301.50 361.60 C303.27 362.40 305.85 362.93 307.60 363.20 C309.35 363.47 310.27 363.17 312.00 363.20 C313.73 363.23 316.33 363.48 318.00 363.40 C319.67 363.32 320.67 362.75 322.00 362.70 C323.33 362.65 324.33 363.07 326.00 363.10 C327.67 363.13 331.00 362.93 332.00 362.90" fill="none" stroke="#111" stroke-width="1.3" stroke-linejoin="round" stroke-linecap="round" />
<rect x="182.70" y="264.25" width="149.30" height="110.35" fill="none" stroke="#1a1a1a" stroke-width="1.2"/>
<line x1="207.40" y1="374.60" x2="207.40" y2="372.40" stroke="#3a3a3a" stroke-width="1.0" />
<line x1="232.30" y1="374.60" x2="232.30" y2="372.40" stroke="#3a3a3a" stroke-width="1.0" />
<line x1="257.30" y1="374.60" x2="257.30" y2="372.40" stroke="#3a3a3a" stroke-width="1.0" />
<line x1="282.10" y1="374.60" x2="282.10" y2="372.40" stroke="#3a3a3a" stroke-width="1.0" />
<line x1="307.00" y1="374.60" x2="307.00" y2="372.40" stroke="#3a3a3a" stroke-width="1.0" />
<line x1="182.70" y1="310.00" x2="184.90" y2="310.00" stroke="#3a3a3a" stroke-width="1.0" />
<line x1="182.70" y1="322.20" x2="184.90" y2="322.20" stroke="#3a3a3a" stroke-width="1.0" />
<line x1="182.70" y1="333.30" x2="184.90" y2="333.30" stroke="#3a3a3a" stroke-width="1.0" />
<line x1="182.70" y1="345.60" x2="184.90" y2="345.60" stroke="#3a3a3a" stroke-width="1.0" />
<line x1="182.70" y1="357.30" x2="184.90" y2="357.30" stroke="#3a3a3a" stroke-width="1.0" />
<line x1="182.70" y1="368.90" x2="184.90" y2="368.90" stroke="#3a3a3a" stroke-width="1.0" />
<text x="186.20" y="273.90" font-size="8.4" font-weight="bold" text-anchor="start" fill="#0a0a0a" stroke="#0a0a0a" stroke-width="0.2">Si2p MgO/4H-SiC</text>
<line x1="186.30" y1="280.90" x2="199.00" y2="280.90" stroke="#111" stroke-width="1.35" />
<text x="200.80" y="283.20" font-size="6.6" font-weight="bold" text-anchor="start" fill="#0a0a0a" stroke="#0a0a0a" stroke-width="0.15">Raw data</text>
<line x1="186.30" y1="289.70" x2="199.00" y2="289.70" stroke="#ea1820" stroke-width="1.35" />
<text x="200.80" y="292.00" font-size="6.6" font-weight="bold" text-anchor="start" fill="#0a0a0a" stroke="#0a0a0a" stroke-width="0.15">Background</text>
<line x1="186.30" y1="298.00" x2="199.00" y2="298.00" stroke="#27e627" stroke-width="1.35" />
<text x="200.80" y="300.30" font-size="6.6" font-weight="bold" text-anchor="start" fill="#0a0a0a" stroke="#0a0a0a" stroke-width="0.15">Fitting curve</text>
<text x="313.30" y="277.30" font-size="9.6" font-weight="normal" text-anchor="start" fill="#0a0a0a" stroke="#0a0a0a" stroke-width="0.22">(f)</text>
<line x1="182.80" y1="298.00" x2="187.00" y2="298.00" stroke="#27e627" stroke-width="1.35" />
<text x="207.40" y="383.70" font-size="8.5" font-weight="normal" text-anchor="middle" fill="#0a0a0a" stroke="#0a0a0a" stroke-width="0.15">96</text>
<text x="257.30" y="383.70" font-size="8.5" font-weight="normal" text-anchor="middle" fill="#0a0a0a" stroke="#0a0a0a" stroke-width="0.15">100</text>
<text x="307.00" y="383.70" font-size="8.5" font-weight="normal" text-anchor="middle" fill="#0a0a0a" stroke="#0a0a0a" stroke-width="0.15">104</text>
<text x="253.40" y="393.00" font-size="10.0" font-weight="normal" text-anchor="middle" fill="#0a0a0a" stroke="#0a0a0a" stroke-width="0.22">Binding energy (eV)</text>
<text x="0" y="0" font-size="10.0" text-anchor="middle" fill="#0a0a0a" stroke="#0a0a0a" stroke-width="0.22" transform="translate(174.00,321.70) rotate(-90)">Intensity (a.u.)</text>
</svg>
</body></html>
